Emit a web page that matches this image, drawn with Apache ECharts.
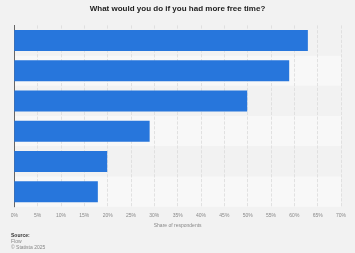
<!DOCTYPE html>
<html><head><meta charset="utf-8">
<script src="https://cdn.jsdelivr.net/npm/echarts@6/dist/echarts.min.js"></script>
<style>html,body{margin:0;padding:0;background:#f2f2f2;}#c{width:355px;height:253px;}</style>
</head><body><div id="c"></div>
<script>
var categories = ["Answer 1","Answer 2","Answer 3","Answer 4","Answer 5","Answer 6"];
var values = [62.9, 58.9, 49.9, 29.0, 19.9, 17.9];
var tickLabels = ["0%","5%","10%","15%","20%","25%","30%","35%","40%","45%","50%","55%","60%","65%","70%"];

var chart = echarts.init(document.getElementById('c'));
chart.setOption({
  backgroundColor: '#f2f2f2',
  animation: false,
  title: {
    text: 'What would you do if you had more free time?',
    left: 'center', top: 0,
    textStyle: {fontFamily: 'Arial, Liberation Sans', fontSize: 8, fontWeight: 'bold', color: '#222'}
  },
  graphic: [
    {type: 'text', left: 11, top: 233, style: {text: 'Source:', font: 'bold 5px Arial', fill: '#333'}},
    {type: 'text', left: 11, top: 239, style: {text: 'Flow', font: '5px Arial', fill: '#888'}},
    {type: 'text', left: 11, top: 245, style: {text: '© Statista 2025', font: '5px Arial', fill: '#888'}}
  ],
  grid: {left: 14.3, right: 14, top: 25.4, bottom: 46.2, containLabel: false},
  xAxis: {
    type: 'value', min: 0, max: 70, interval: 5,
    name: 'Share of respondents', nameLocation: 'middle', nameGap: 10,
    nameTextStyle: {fontSize: 5, color: '#888', fontFamily: 'Arial'},
    axisLine: {show: false}, axisTick: {show: false},
    axisLabel: {fontSize: 5, color: '#888', margin: 6, fontFamily: 'Arial',
      formatter: function (v) { return tickLabels[Math.round(v / 5)]; }},
    splitLine: {show: true, lineStyle: {color: '#dadada', type: 'dashed', width: 0.8}}
  },
  yAxis: {
    type: 'category', data: categories, inverse: true,
    axisLine: {show: true, lineStyle: {color: '#666', width: 1}},
    axisTick: {show: false}, axisLabel: {show: false},
    splitArea: {show: true, areaStyle: {color: ['#f2f2f2', '#f8f8f8']}}
  },
  series: [{
    type: 'bar', data: values, barWidth: 21,
    itemStyle: {color: '#2776dc'}
  }]
});
</script></body></html>
